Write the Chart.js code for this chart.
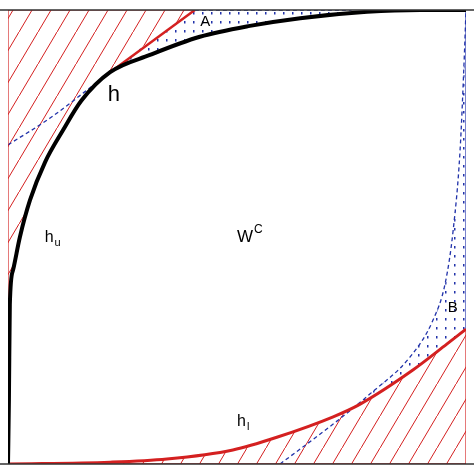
<!DOCTYPE html><html><head><style>html,body{margin:0;background:#fff}#w{width:474px;height:474px}</style>
<script src="https://cdn.jsdelivr.net/npm/chart.js@4"></script></head><body><div id="w"><canvas id="c"></canvas></div><script>
const hCurve=[[0,0],[0.002,0.141],[0.004,0.352],[0.011,0.427],[0.026,0.5],[0.048,0.581],[0.081,0.665],[0.120,0.735],[0.160,0.800],[0.223,0.863],[0.310,0.901],[0.419,0.941],[0.528,0.965],[0.638,0.982],[0.784,0.996],[0.9,1],[1,1]];
const lineA=[[0.223,0.863],[0.408,1]];
const hLower=[[0,0],[0.223,0.004],[0.347,0.011],[0.491,0.031],[0.587,0.059],[0.710,0.104],[0.769,0.132],[0.884,0.207],[0.958,0.264],[1,0.297]];
const blueRight=[[0.594,0],[0.710,0.088],[0.790,0.154],[0.878,0.236],[0.928,0.317],[0.955,0.40],[0.972,0.515],[0.987,0.69],[0.996,0.89],[1,1]];
const blueLeft=[[0,0.703],[0.092,0.762],[0.201,0.846]];
const blueTop=[[0.408,1],[0.75,1]];
const labels=[{t:'A',x:0.42,y:0.965,s:15},{t:'h',x:0.218,y:0.80,s:22},{t:'h',sub:'u',x:0.08,y:0.49,s:16},{t:'W',sup:'C',x:0.5,y:0.49,s:17},{t:'B',x:0.96,y:0.335,s:15},{t:'h',sub:'l',x:0.5,y:0.083,s:16}];
const P=a=>a.map(p=>({x:p[0],y:p[1]}));
function hatch(){const c=document.createElement('canvas');c.width=19;c.height=32;const g=c.getContext('2d');g.fillStyle='#fff';g.fillRect(0,0,19,32);g.strokeStyle='#d42020';g.lineWidth=1;g.beginPath();g.moveTo(-1,33.7);g.lineTo(20,-1.7);g.stroke();return g.createPattern(c,'repeat');}
function dots(){const c=document.createElement('canvas');c.width=9;c.height=9;const g=c.getContext('2d');g.fillStyle='#2233aa';g.fillRect(4,3,1.5,2.5);return g.createPattern(c,'repeat');}
const H=hatch(),D=dots();
const topLeft=P(hCurve.slice(0,10).concat([lineA[1]]));
const M='monotone';
const L=(data,color,w,dash,order)=>({data:P(data),borderColor:color,borderWidth:w,borderDash:dash||[],pointRadius:0,fill:false,order:order||0,cubicInterpolationMode:M});
const F=(data,fill,bg,order)=>({data:P(data),borderWidth:0,pointRadius:0,fill:fill,backgroundColor:bg,order:order,cubicInterpolationMode:M});
const ds=[
F(hCurve,'end',D,10),F(blueRight,'start',D,9),{...F(hCurve.slice(0,10).concat([lineA[1]]),'end',H,8)},F(hLower,'start',H,7),
L(blueRight,'#2233aa',1.3,[4,3],5),L(blueLeft,'#2233aa',1.3,[4,3],5),L(blueTop,'#2233aa',1.3,[4,3],5),
L([[0,0],[0,1]],'#d42020',1.2,null,4),L([[0,1],[0.408,1]],'#d42020',1.2,null,4),L([[0,0],[1,0]],'#d42020',1.5,null,4),L([[1,0],[1,0.297]],'#d42020',1.2,null,4),L([[1,0.297],[1,1]],'#2233aa',1.2,null,4),
L(lineA,'#d42020',2.5,null,3),L(hLower,'#d42020',3,null,2),L(hCurve,'#000',4,null,1)];
const txt={id:'txt',afterDraw(ch){const g=ch.ctx,x=ch.scales.x,y=ch.scales.y;g.save();g.fillStyle='#000';g.textAlign='left';g.textBaseline='alphabetic';
labels.forEach(l=>{const px=x.getPixelForValue(l.x),py=y.getPixelForValue(l.y);g.font=l.s+'px "Liberation Sans",Arial';g.fillText(l.t,px,py);const w=g.measureText(l.t).width;g.font=Math.round(l.s*0.7)+'px "Liberation Sans",Arial';if(l.sub)g.fillText(l.sub,px+w+1,py+4);if(l.sup)g.fillText(l.sup,px+w+1,py-9);});
g.strokeStyle='#333';g.lineWidth=1.5;g.beginPath();g.moveTo(0,y.getPixelForValue(1));g.lineTo(474,y.getPixelForValue(1));g.moveTo(0,y.getPixelForValue(0));g.lineTo(474,y.getPixelForValue(0));g.stroke();g.restore();}};
new Chart(document.getElementById('c'),{type:'line',data:{datasets:ds},plugins:[txt],options:{responsive:true,maintainAspectRatio:false,animation:false,layout:{padding:{left:8,right:8,top:10,bottom:10}},plugins:{legend:{display:false},tooltip:{enabled:false}},
scales:{x:{type:'linear',min:0,max:1,display:false},y:{type:'linear',min:0,max:1,display:false}}}});
</script></body></html>
